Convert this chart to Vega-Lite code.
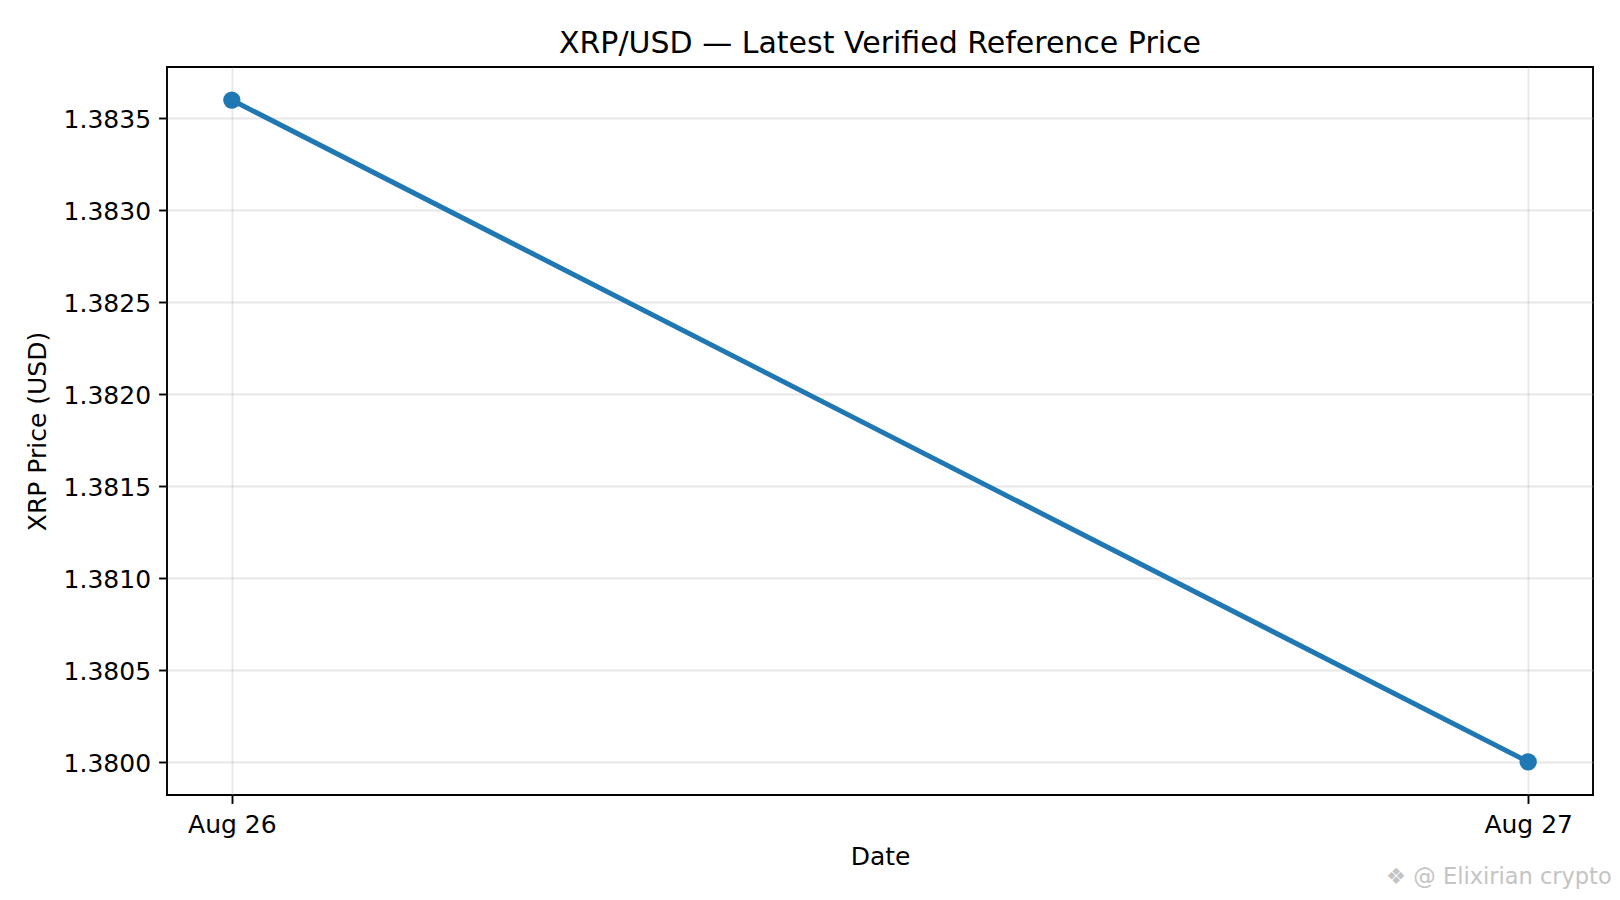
{
  "$schema": "https://vega.github.io/schema/vega-lite/v6.json",
  "width": 1426,
  "height": 728,
  "autosize": {"type": "none"},
  "padding": {"left": 167, "top": 67, "right": 27, "bottom": 105},
  "background": "white",
  "title": {
    "text": "XRP/USD — Latest Verified Reference Price",
    "font": "DejaVu Sans",
    "fontSize": 30,
    "fontWeight": "normal",
    "color": "black",
    "anchor": "middle",
    "offset": 8
  },
  "config": {
    "font": "DejaVu Sans",
    "view": {"stroke": "black", "strokeWidth": 1.9},
    "axis": {
      "labelFont": "DejaVu Sans",
      "labelFontSize": 25,
      "labelColor": "black",
      "titleFont": "DejaVu Sans",
      "titleFontSize": 25,
      "titleFontWeight": "normal",
      "titleColor": "black",
      "tickColor": "black",
      "tickSize": 8.4,
      "tickWidth": 1.9,
      "domain": false,
      "grid": true,
      "gridColor": "#b0b0b0",
      "gridOpacity": 0.3,
      "gridWidth": 1.9
    }
  },
  "encoding": {
    "x": {
      "field": "date",
      "type": "temporal",
      "title": "Date",
      "scale": {
        "type": "utc",
        "domain": ["2025-08-25T22:48:00Z", "2025-08-27T01:12:00Z"]
      },
      "axis": {
        "values": ["2025-08-26T00:00:00Z", "2025-08-27T00:00:00Z"],
        "format": "%b %d",
        "labelPadding": 9,
        "labelFlush": false,
        "titlePadding": 7
      }
    },
    "y": {
      "field": "price",
      "type": "quantitative",
      "title": "XRP Price (USD)",
      "scale": {"domain": [1.37982, 1.38378], "nice": false, "zero": false},
      "axis": {
        "values": [1.38, 1.3805, 1.381, 1.3815, 1.382, 1.3825, 1.383, 1.3835],
        "format": ".4f",
        "labelPadding": 8,
        "labelOffset": 1.5,
        "titlePadding": 13
      }
    }
  },
  "layer": [
    {
      "data": {
        "values": [
          {"date": "2025-08-26T00:00:00Z", "price": 1.3836},
          {"date": "2025-08-27T00:00:00Z", "price": 1.38}
        ]
      },
      "mark": {
        "type": "line",
        "color": "#1f77b4",
        "strokeWidth": 5,
        "point": {"filled": true, "color": "#1f77b4", "size": 300, "opacity": 1}
      }
    },
    {
      "data": {
        "values": [
          {"date": "2025-08-26T21:22:00Z", "price": 1.379375, "label": "❖ @ Elixirian crypto"}
        ]
      },
      "mark": {
        "type": "text",
        "align": "left",
        "baseline": "middle",
        "fontSize": 22.5,
        "font": "DejaVu Sans",
        "color": "#c4c4c4"
      },
      "encoding": {
        "text": {"field": "label", "type": "nominal"}
      }
    }
  ]
}
